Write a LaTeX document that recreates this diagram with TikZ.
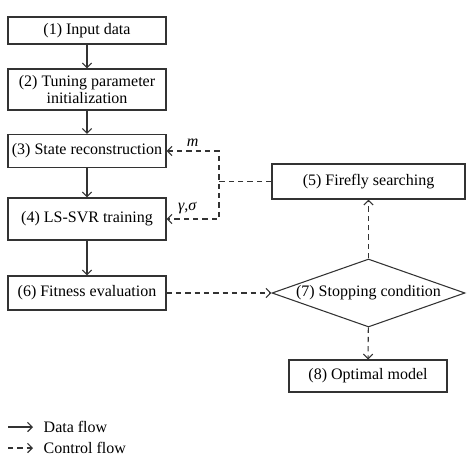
\documentclass[tikz,border=0pt]{standalone}
\usepackage{fontspec}
\setmainfont{Liberation Serif}
\usepackage{tikz}
\usetikzlibrary{shapes.geometric,arrows.meta}

\begin{document}
\begin{tikzpicture}[x=0.75pt,y=-0.75pt]
		\tikzset{step box/.style={draw=black!80,line width=0.8pt,minimum width=118.5pt,inner sep=1pt,font=\fontsize{12}{13}\selectfont,align=center}};
		\tikzset{data/.style={draw=black!80,line width=0.8pt,-{Straight Barb[length=3.5pt,width=7pt]}}};
		\tikzset{ctrl/.style={data,dash pattern=on 4pt off 3pt}};
		
		\useasboundingbox (0,0) rectangle (474,474);
		
		\node (input) at (87,30.5) [step box,minimum height=20.25pt]{(1) Input data};
		\node (tune) at (87,89.5) [step box,minimum height=30.75pt]{(2) Tuning parameter\\initialization};
		\node (state) at (87,151) [step box,minimum height=24.75pt]{(3) State reconstruction};
		\node (train) at (87,219) [step box,minimum height=31.5pt]{(4) LS-SVR training};
		\node (fit) at (87,293) [step box,minimum height=25.5pt]{(6) Fitness evaluation};
		\node (fire) at (368.5,181.5) [step box,minimum width=144.75pt,minimum height=26.25pt]{(5) Firefly searching};
		\node (stop) at (368.5,293) [step box,diamond,aspect=2.84,minimum width=144.75pt,minimum height=51pt,inner sep=0pt]{(7) Stopping condition};
		\node (best) at (368,376) [step box,minimum height=24pt]{(8) Optimal model};
		
		\coordinate (mtop) at (219,151);
		\coordinate (mbot) at (219,219);
		
		\draw [data] (input) -- (tune);
		\draw [data] (tune) -- (state);
		\draw [data] (state) -- (train);
		\draw [data] (train) -- (fit);
		
		\draw [ctrl,{Straight Barb[length=3.5pt,width=7pt]}-{Straight Barb[length=3.5pt,width=7pt]}] (state.east) -- node[above,font=\fontsize{12}{13}\selectfont]{\textit{m}} (mtop) -- (mbot) -- node[above,font=\fontsize{12}{13}\selectfont,xshift=-4pt]{\textit{γ},\textit{σ}} (train.east);
		\draw [ctrl,-] (fire.west) -- (fire.west -| mtop);
		\draw [ctrl] (fit) -- (stop);
		\draw [ctrl] (stop) -- (fire);
		\draw [ctrl] (stop) -- (best);
		
		% legend
		\coordinate (d1) at (8,427);
		\coordinate (d2) at (33,427);
		\coordinate (c1) at (8,448);
		\coordinate (c2) at (33,448);
		\draw [data] (d1) -- (d2);
		\draw [ctrl] (c1) -- (c2);
		\node (ldata) at (39,427) [anchor=west,font=\fontsize{12}{13}\selectfont]{Data flow};
		\node (lctrl) at (39,448) [anchor=west,font=\fontsize{12}{13}\selectfont]{Control flow};
\end{tikzpicture}
\end{document}
